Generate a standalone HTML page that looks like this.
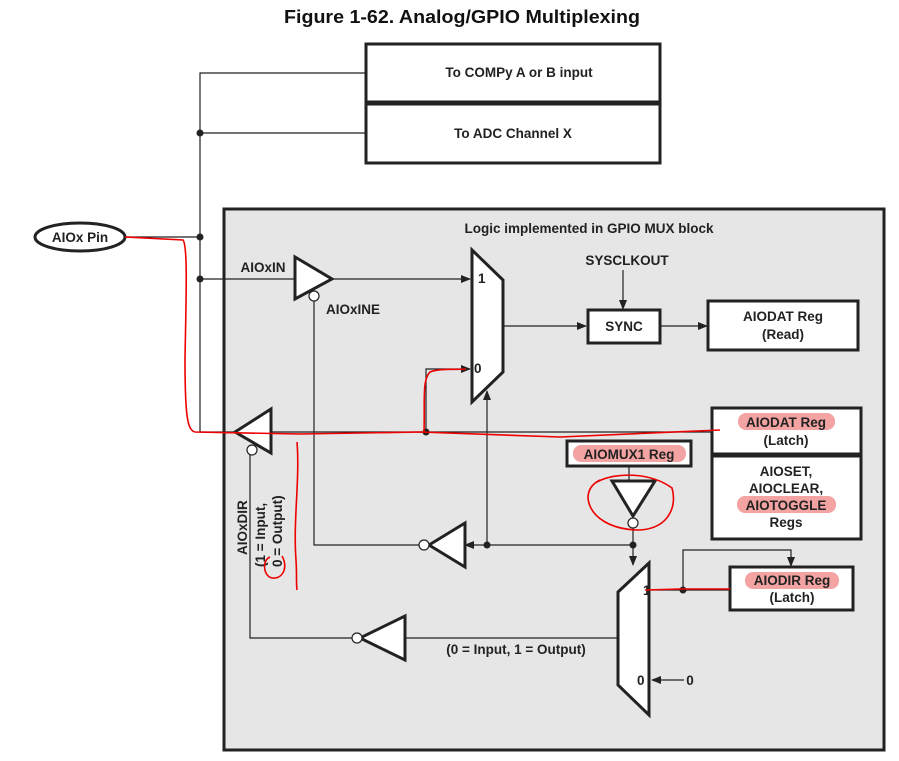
<!DOCTYPE html>
<html><head><meta charset="utf-8"><style>
html,body{margin:0;padding:0;background:#fff;}
svg{display:block;font-family:"Liberation Sans",Arial,sans-serif;font-weight:bold;}
</style></head><body>
<svg width="899" height="761" viewBox="0 0 899 761" xmlns="http://www.w3.org/2000/svg">
<defs>
<marker id="a" markerWidth="10" markerHeight="8" refX="9" refY="4" orient="auto" markerUnits="userSpaceOnUse"><path d="M0,0 L10,4 L0,8 z" fill="#222"/></marker>
</defs>
<text x="462" y="23" text-anchor="middle" font-size="18" textLength="356" lengthAdjust="spacingAndGlyphs" fill="#111">Figure 1-62. Analog/GPIO Multiplexing</text>

<rect x="366" y="44" width="294" height="58" fill="#fff" stroke="#222" stroke-width="3"/>
<rect x="366" y="104" width="294" height="59" fill="#fff" stroke="#222" stroke-width="3"/>
<text x="519" y="77" text-anchor="middle" font-size="13.5" fill="#222">To COMPy A or B input</text>
<text x="513" y="138" text-anchor="middle" font-size="13.5" fill="#222">To ADC Channel X</text>

<rect x="224" y="209" width="660" height="541" fill="#e6e6e6" stroke="#222" stroke-width="3"/>
<text x="589" y="233" text-anchor="middle" font-size="13.5" fill="#222">Logic implemented in GPIO MUX block</text>

<g stroke="#222" stroke-width="1.2" fill="none">
<polyline points="365,73 200,73 200,432 235,432"/>
<line x1="200" y1="133" x2="365" y2="133"/>
<line x1="125" y1="237" x2="200" y2="237"/>
<line x1="200" y1="279" x2="295" y2="279"/>
<line x1="332" y1="279" x2="470" y2="279" marker-end="url(#a)"/>
<line x1="503" y1="326" x2="586" y2="326" marker-end="url(#a)"/>
<line x1="623" y1="270" x2="623" y2="309" marker-end="url(#a)"/>
<line x1="660" y1="326" x2="707" y2="326" marker-end="url(#a)"/>
<line x1="271" y1="432" x2="711" y2="432"/>
<polyline points="426,432 426,369 470,369" marker-end="url(#a)"/>
<line x1="487" y1="545" x2="487" y2="391" marker-end="url(#a)"/>
<line x1="629" y1="466" x2="629" y2="481"/>
<polyline points="633,528 633,565" marker-end="url(#a)"/>
<line x1="633" y1="545" x2="465" y2="545" marker-end="url(#a)"/>
<polyline points="419,545 314,545 314,301"/>
<polyline points="618,638 405,638"/>
<polyline points="352,638 250,638 250,455"/>
<line x1="730" y1="590" x2="651" y2="590"/>
<polyline points="683,590 683,550 791,550 791,566" marker-end="url(#a)"/>
<line x1="684" y1="680" x2="652" y2="680" marker-end="url(#a)"/>
</g>

<g fill="#222">
<circle cx="200" cy="133" r="3.5"/><circle cx="200" cy="237" r="3.5"/><circle cx="200" cy="279" r="3.5"/>
<circle cx="426" cy="432" r="3.5"/><circle cx="487" cy="545" r="3.5"/><circle cx="633" cy="545" r="3.5"/><circle cx="683" cy="590" r="3.5"/>
</g>

<ellipse cx="80" cy="237" rx="45" ry="14" fill="#fff" stroke="#222" stroke-width="3"/>
<text x="80" y="242" text-anchor="middle" font-size="13.5" fill="#222">AIOx Pin</text>

<g stroke="#222" stroke-width="3" fill="#fff">
<polygon points="295,257 295,299 332,279"/>
<polygon points="235,432 271,409 271,453"/>
<polygon points="429,545 465,523 465,567"/>
<polygon points="360,638 405,616 405,660"/>
<polygon points="612,481 655,481 633,516"/>
<polygon points="472,250 503,280 503,372 472,402"/>
<polygon points="618,592 649,563 649,715 618,685"/>
</g>
<g stroke="#222" stroke-width="1.2" fill="#fff">
<circle cx="314" cy="296" r="5"/><circle cx="252" cy="450" r="5"/><circle cx="424" cy="545" r="5"/><circle cx="357" cy="638" r="5"/><circle cx="633" cy="523" r="5"/>
</g>

<g stroke="#222" stroke-width="3" fill="#fff">
<rect x="588" y="310" width="72" height="33"/>
<rect x="708" y="301" width="150" height="49"/>
<rect x="712" y="408" width="149" height="46"/>
<rect x="712" y="456" width="149" height="83"/>
<rect x="567" y="441" width="124" height="25"/>
<rect x="730" y="567" width="123" height="43"/>
</g>

<g fill="#f4a3a3">
<rect x="738" y="413" width="97" height="17" rx="8"/>
<rect x="573" y="445" width="113" height="17" rx="8"/>
<rect x="737" y="496" width="99" height="17" rx="8"/>
<rect x="745" y="572" width="94" height="17" rx="8"/>
</g>

<g font-size="13.5" fill="#222" text-anchor="middle">
<text x="263" y="272">AIOxIN</text>
<text x="353" y="314">AIOxINE</text>
<text x="478" y="283" text-anchor="start">1</text>
<text x="474" y="373" text-anchor="start">0</text>
<text x="627" y="265">SYSCLKOUT</text>
<text x="624" y="331">SYNC</text>
<text x="783" y="321">AIODAT Reg</text>
<text x="783" y="339">(Read)</text>
<text x="786" y="427">AIODAT Reg</text>
<text x="786" y="445">(Latch)</text>
<text x="786" y="476">AIOSET,</text>
<text x="786" y="493">AIOCLEAR,</text>
<text x="786" y="510">AIOTOGGLE</text>
<text x="786" y="527">Regs</text>
<text x="629" y="459">AIOMUX1 Reg</text>
<text x="792" y="585">AIODIR Reg</text>
<text x="792" y="602">(Latch)</text>
<text x="643" y="595" text-anchor="start">1</text>
<text x="637" y="685" text-anchor="start">0</text>
<text x="690" y="685">0</text>
<text x="516" y="654">(0 = Input, 1 = Output)</text>
<g transform="translate(247,555) rotate(-90)"><text x="0" y="0" text-anchor="start">AIOxDIR</text></g>
<g transform="translate(265,567) rotate(-90)"><text x="0" y="0" text-anchor="start">(1 = Input,</text></g>
<g transform="translate(282,567) rotate(-90)"><text x="0" y="0" text-anchor="start">0 = Output)</text></g>
</g>

<g stroke="#e00" stroke-width="1.6" fill="none">
<path d="M125,237 L183,240 C188,246 186,300 185,360 C185,420 188,430 195,432 L300,434 L420,432 L560,437 L720,430"/>
<path d="M424,432 C425,400 422,380 430,372 C440,368 455,370 466,369"/>
<path d="M645,590 L680,589 L730,589"/>
<path d="M597,482 C615,472 650,472 672,488 C677,505 670,528 640,530 C612,530 590,518 588,498 C588,488 594,483 600,480"/>
<path d="M297,442 C300,480 293,520 296,560 C297,575 296,583 297,590"/>
<path d="M270,557 C262,560 263,576 272,578 C284,579 288,566 282,556"/>
</g>
</svg>
</body></html>
